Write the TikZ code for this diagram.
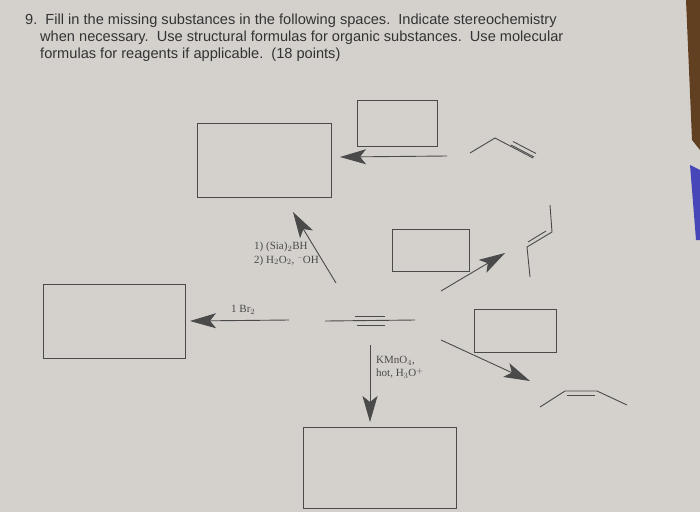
\documentclass[tikz,border=0pt]{standalone}
\usepackage{fontspec}
\setmainfont{Liberation Serif}
\newfontfamily\titlefont{Liberation Sans}
\usetikzlibrary{arrows.meta}
\definecolor{paper}{HTML}{D4D1CD}
\definecolor{ink}{HTML}{4A4A4A}
\tikzset{
  box/.style={draw=ink, line width=0.9pt},
  arr/.style={draw=ink, line width=0.9pt, -{Stealth[length=26pt,width=15pt,inset=6pt]}},
  bond/.style={draw=ink, line width=0.9pt},
  lbl/.style={font=\fontsize{11}{13.5}\selectfont, text=ink, align=left, anchor=north west, inner sep=0pt},
}
\begin{document}
\begin{tikzpicture}[x=1pt,y=-1pt]
\useasboundingbox (0,0) rectangle (700,512);
\fill[paper] (0,0) rectangle (700,512);
\fill[brown!50!black] (686,0) -- (700,0) -- (700,150) -- (692,140) -- cycle;
\fill[blue!45!gray] (690,165) -- (700,170) -- (700,240) -- (696,240) -- cycle;
\node[anchor=north west, inner sep=0pt, align=left, text=black!80, font=\titlefont\fontsize{14.6}{17}\selectfont] (title) at (25,14) {9.\ \ Fill in the missing substances in the following spaces.\ \ Indicate stereochemistry\\
\hspace*{15pt}when necessary.\ \ Use structural formulas for organic substances.\ \ Use molecular\\
\hspace*{15pt}formulas for reagents if applicable.\ \ (18 points)};
% boxes
\node[box, minimum width=134pt, minimum height=74pt] (b1) at (264,160) {};
\node[box, minimum width=80pt, minimum height=46pt] (b2) at (397,123) {};
\node[box, minimum width=77pt, minimum height=42pt] (b3) at (430.5,250) {};
\node[box, minimum width=142pt, minimum height=74pt] (b4) at (114,321) {};
\node[box, minimum width=82pt, minimum height=43pt] (b5) at (515,330.5) {};
\node[box, minimum width=153pt, minimum height=81pt] (b6) at (379.5,467.5) {};
% coordinates for arrows
\coordinate (a1s) at (447,156); \coordinate (a1e) at (340,157);
\coordinate (a2s) at (336,283); \coordinate (a2e) at (293,212);
\coordinate (a3s) at (441,291); \coordinate (a3e) at (505,253);
\coordinate (a4s) at (289,320); \coordinate (a4e) at (190,321);
\coordinate (a5s) at (441,340); \coordinate (a5e) at (530,381);
\coordinate (a6s) at (370,345); \coordinate (a6e) at (370,422);
\draw[arr] (a1s) -- (a1e);
\draw[arr] (a2s) -- (a2e);
\draw[arr] (a3s) -- (a3e);
\draw[arr] (a4s) -- (a4e);
\draw[arr] (a5s) -- (a5e);
\draw[arr] (a6s) -- (a6e);
% labels
\node[lbl] (l1) at (254,242) {1) (Sia)$_2$BH\\2) H$_2$O$_2$, $^{\scriptscriptstyle -}$OH};
\node[lbl] (l2) at (231,305) {1 Br$_2$};
\node[lbl] (l3) at (376,356) {KMnO$_4$,\\hot, H$_3$O$^{+}$};
% 1-butyne
\draw[bond] (470,153) -- (495,138) -- (533,158);
\draw[bond] (511,145) -- (534,157);
\draw[bond] (513,141.5) -- (536,153.5);
% central 2-butyne
\draw[bond] (325,321) -- (415,320);
\draw[bond] (355,316.5) -- (385,316.5);
\draw[bond] (357,325) -- (385,325);
% trans-2-butene
\draw[bond] (550,205) -- (552,232) -- (527,247) -- (530,277);
\draw[bond] (546,231) -- (528,242);
% cis-2-butene
\draw[bond] (540,407) -- (565,391) -- (597,391) -- (627,405);
\draw[bond] (567,395) -- (595,395);
\end{tikzpicture}
\end{document}
